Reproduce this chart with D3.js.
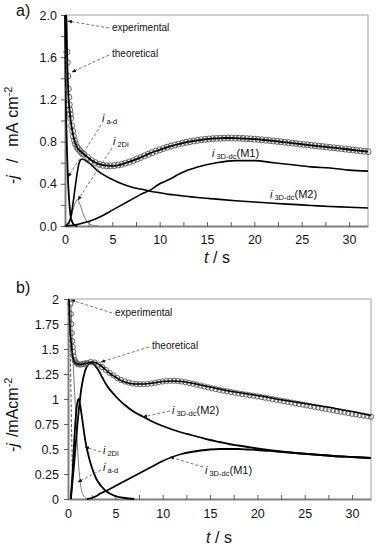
<!DOCTYPE html>
<html><head><meta charset="utf-8">
<script src="https://cdn.jsdelivr.net/npm/d3@7"></script>
<style>body{margin:0;background:#fff}svg{display:block}text{font-family:"Liberation Sans",Arial,sans-serif;fill:#111}</style>
</head><body><svg id="c" width="378" height="548"></svg>
<script>
// ---------- Panel a data ----------
const tA_exp = [0.12,0.16,0.2,0.25,0.3,0.35,0.4,0.5,0.6,0.7,0.8,1.0,1.25,1.6,2,3,4,5,6,7,8,9,10,11,12,13,14,15,16,17,18,19,20,21,22,23,24,25,26,27,28,29,30,31,32];
const jA_exp = [2.0,1.95,1.75,1.52,1.38,1.26,1.18,1.08,1.0,0.94,0.89,0.81,0.75,0.71,0.68,0.61,0.576,0.57,0.585,0.615,0.65,0.69,0.722,0.753,0.777,0.797,0.812,0.823,0.83,0.834,0.833,0.829,0.823,0.815,0.806,0.796,0.786,0.775,0.765,0.755,0.745,0.735,0.725,0.715,0.705];
const tA_th = [0.2,0.25,0.3,0.35,0.4,0.45,0.5,0.55,0.6,0.7,0.8,0.9,1.0,1.1,1.25,1.4,1.6,1.8,2.0,2.4,2.8,3.2,3.6,4.0,4.4,4.8,5.2,5.6,6.0,6.4,6.8,7.2,7.6,8.0,8.4,8.8,9.2,9.6,10.0,10.4,10.8,11.2,11.6,12.0,12.4,12.8,13.2,13.6,14.0,14.4,14.8,15.2,15.6,16.0,16.4,16.8,17.2,17.6,18.0,18.4,18.8,19.2,19.6,20.0,20.4,20.8,21.2,21.6,22.0,22.4,22.8,23.2,23.6,24.0,24.4,24.8,25.2,25.6,26.0,26.4,26.8,27.2,27.6,28.0,28.4,28.8,29.2,29.6,30.0,30.4,30.8,31.2,31.6,32.0];
const jA_th = [1.65,1.55,1.42,1.30,1.22,1.15,1.10,1.06,1.02,0.95,0.90,0.85,0.81,0.78,0.75,0.73,0.71,0.69,0.68,0.65,0.62,0.60,0.585,0.575,0.57,0.57,0.572,0.578,0.585,0.595,0.607,0.62,0.635,0.65,0.665,0.68,0.695,0.71,0.722,0.735,0.747,0.758,0.768,0.777,0.785,0.793,0.80,0.806,0.812,0.817,0.821,0.825,0.828,0.83,0.832,0.833,0.834,0.834,0.833,0.832,0.83,0.828,0.826,0.823,0.82,0.817,0.813,0.81,0.806,0.802,0.798,0.794,0.79,0.786,0.782,0.777,0.773,0.769,0.765,0.761,0.757,0.753,0.749,0.745,0.741,0.737,0.733,0.729,0.725,0.721,0.717,0.713,0.709,0.705];
const tA_ad = [0,0.05,0.1,0.2,0.3,0.4,0.5,0.6,0.8,1.0,1.3];
const jA_ad = [2.0,1.5,1.15,0.75,0.47,0.3,0.17,0.09,0.03,0.01,0];
const tA_2d = [0.4,0.7,1.0,1.3,1.6,1.9,2.2,2.6,3.0,3.5];
const jA_2d = [0,0.1,0.2,0.25,0.2,0.12,0.06,0.02,0.005,0];
const tA_m2 = [0,0.3,0.6,0.9,1.2,1.5,1.8,2.1,2.5,3,3.5,4,5,6,7,8,9,10,11,12,13,14,16,18,20,22,24,26,28,30,32];
const jA_m2 = [0,0.02,0.08,0.25,0.45,0.6,0.635,0.625,0.6,0.56,0.52,0.49,0.44,0.40,0.37,0.35,0.33,0.315,0.30,0.29,0.28,0.27,0.255,0.24,0.228,0.215,0.205,0.195,0.185,0.178,0.17];
const tA_m1 = [0,1,2,3,4,5,6,7,8,9,10,11,12,13,14,16,18,20,22,24,26,28,30,32];
const jA_m1 = [0,0.01,0.03,0.06,0.1,0.15,0.2,0.25,0.3,0.34,0.4,0.44,0.49,0.53,0.56,0.6,0.62,0.62,0.6,0.58,0.56,0.55,0.53,0.52];

// ---------- Panel b data ----------
const tB_exp = [0.1,0.15,0.2,0.3,0.4,0.5,0.6,0.8,1.0,1.3,1.6,2.0,2.5,3.0,3.5,4,4.5,5,5.5,6,7,8,9,10,11,12,13,14,15,16,17,18,19,20,21,22,23,24,25,26,27,28,29,30,31,32];
const jB_exp = [2.0,1.9,1.75,1.6,1.5,1.43,1.39,1.36,1.35,1.345,1.35,1.36,1.37,1.36,1.33,1.29,1.25,1.22,1.19,1.17,1.15,1.15,1.16,1.175,1.18,1.175,1.16,1.14,1.12,1.10,1.08,1.065,1.05,1.035,1.02,1.0,0.985,0.97,0.955,0.94,0.925,0.91,0.89,0.875,0.855,0.835];
const tB_th = [0.25,0.3,0.35,0.4,0.45,0.5,0.55,0.6,0.7,0.8,0.9,1.0,1.2,1.4,1.6,1.8,2.0,2.4,2.8,3.2,3.6,4.0,4.4,4.8,5.2,5.6,6.0,6.4,6.8,7.2,7.6,8.0,8.4,8.8,9.2,9.6,10.0,10.4,10.8,11.2,11.6,12.0,12.4,12.8,13.2,13.6,14.0,14.4,14.8,15.2,15.6,16.0,16.4,16.8,17.2,17.6,18.0,18.4,18.8,19.2,19.6,20.0,20.4,20.8,21.2,21.6,22.0,22.4,22.8,23.2,23.6,24.0,24.4,24.8,25.2,25.6,26.0,26.4,26.8,27.2,27.6,28.0,28.4,28.8,29.2,29.6,30.0,30.4,30.8,31.2,31.6,32.0];
const jB_th = [1.95,1.85,1.75,1.66,1.58,1.52,1.47,1.43,1.39,1.37,1.36,1.35,1.345,1.345,1.35,1.355,1.36,1.37,1.365,1.345,1.32,1.29,1.26,1.235,1.21,1.19,1.175,1.165,1.155,1.15,1.148,1.148,1.15,1.155,1.162,1.17,1.175,1.18,1.182,1.182,1.18,1.175,1.168,1.16,1.152,1.143,1.134,1.125,1.116,1.107,1.099,1.091,1.084,1.077,1.07,1.063,1.056,1.05,1.044,1.038,1.032,1.026,1.02,1.013,1.006,0.999,0.992,0.985,0.978,0.971,0.964,0.957,0.95,0.943,0.936,0.929,0.922,0.915,0.908,0.901,0.894,0.887,0.88,0.873,0.866,0.859,0.852,0.846,0.84,0.834,0.828,0.822];
const tB_ad = [0.3,0.4,0.5,0.6,0.74,0.9,1.0,1.1,1.2,1.3,1.45,1.6,1.8,2.0];
const jB_ad = [1.95,1.75,1.45,1.25,1.0,0.7,0.52,0.37,0.25,0.16,0.08,0.04,0.015,0];
const tB_dash = [0.15,0.25,0.35,0.45];
const jB_dash = [2.0,1.45,0.85,0.3];
const tB_2d = [0.3,0.5,0.7,0.9,1.1,1.3,1.5,1.8,2.0,2.5,3.0,3.5,4,5,6,7];
const jB_2d = [0,0.3,0.65,0.9,1.0,0.93,0.8,0.6,0.5,0.32,0.2,0.13,0.08,0.03,0.01,0];
const tB_m2 = [0.3,0.6,1.0,1.4,1.8,2.2,2.5,2.8,3.2,3.6,4,5,6,7,8,9,10,11,12,13,14,15,16,17,18,19,20,22,24,26,28,30,32];
const jB_m2 = [0,0.3,0.75,1.1,1.28,1.35,1.36,1.34,1.29,1.22,1.15,1.03,0.94,0.87,0.82,0.77,0.73,0.695,0.665,0.64,0.615,0.59,0.57,0.55,0.535,0.52,0.505,0.48,0.46,0.445,0.43,0.42,0.41];
const tB_m1 = [2.0,2.5,3,3.5,4,5,6,7,8,9,10,11,12,13,14,15,16,17,18,19,20,22,24,26,28,30,32];
const jB_m1 = [0,0.01,0.03,0.06,0.08,0.13,0.18,0.23,0.28,0.33,0.38,0.42,0.45,0.47,0.485,0.495,0.5,0.5,0.5,0.495,0.49,0.475,0.46,0.445,0.43,0.42,0.41];

// ticks
const xTicks = [0,2.5,5,7.5,10,12.5,15,17.5,20,22.5,25,27.5,30];
const xTickLabels = ["0","","5","","10","","15","","20","","25","","30"];
const yTicksA = [0,0.2,0.4,0.6,0.8,1.0,1.2,1.4,1.6,1.8,2.0];
const yTickLabelsA = ["0.0","","0.4","","0.8","","1.2","","1.6","","2.0"];
const yTicksB = [0,0.25,0.5,0.75,1,1.25,1.5,1.75,2];
const yTickLabelsB = ["0","0.25","0.5","0.75","1","1.25","1.5","1.75","2"];

const svg = d3.select("#c");
const zip = (t,j)=>t.slice(0,Math.min(t.length,j.length)).map((v,i)=>[v,j[i]]);

function panel(cfg){
  const x = d3.scaleLinear().domain([0,32]).range(cfg.xr);
  const y = d3.scaleLinear().domain([0,2]).range(cfg.yr);
  const g = svg.append("g");
  g.append("line").attr("x1",x(0)).attr("x2",x(32)).attr("y1",y(2)).attr("y2",y(2)).attr("stroke","#a0a0a0").attr("stroke-width",1);
  g.append("line").attr("x1",x(32)).attr("x2",x(32)).attr("y1",y(2)).attr("y2",y(0)).attr("stroke","#a0a0a0").attr("stroke-width",1);
  const xa = g.append("g").attr("transform",`translate(0,${y(0)})`)
    .call(d3.axisBottom(x).tickValues(xTicks).tickSize(0).tickFormat((d,i)=>xTickLabels[i]).tickPadding(cfg.xpad));
  xa.select(".domain").attr("stroke","#808080").attr("stroke-width",2);
  xa.selectAll(".tick").append("line").attr("y1",-4).attr("y2",1).attr("stroke","#606060").attr("stroke-width",1);
  xa.selectAll("text").attr("font-size",12.5).attr("fill","#111").attr("font-family","Liberation Sans, Arial, sans-serif");
  const ya = g.append("g").attr("transform",`translate(${x(0)},0)`)
    .call(d3.axisLeft(y).tickValues(cfg.yt).tickSize(0).tickFormat((d,i)=>cfg.ytl[i]).tickPadding(cfg.ypad));
  ya.select(".domain").attr("stroke","#808080").attr("stroke-width",2);
  ya.selectAll(".tick").append("line").attr("x1",-4).attr("x2",1).attr("stroke","#606060").attr("stroke-width",1);
  ya.selectAll("text").attr("font-size",12.5).attr("fill","#111").attr("font-family","Liberation Sans, Arial, sans-serif");

  const line = d3.line().x(d=>x(d[0])).y(d=>y(d[1])).curve(d3.curveMonotoneX);
  const plot = g.append("g");
  cfg.series.forEach(s=>{
    plot.append("path").attr("d",line(zip(s.t,s.j))).attr("fill","none")
      .attr("stroke",s.color).attr("stroke-width",s.w).attr("stroke-dasharray",s.dash||null);
  });
  plot.selectAll("circle.th").data(zip(cfg.th.t,cfg.th.j)).enter().append("circle")
    .attr("cx",d=>x(d[0])).attr("cy",d=>y(d[1])).attr("r",cfg.r).attr("fill","none").attr("stroke","#555").attr("stroke-width",0.9);
  plot.append("path").attr("d",line(zip(cfg.exp.t,cfg.exp.j))).attr("fill","none").attr("stroke","#000").attr("stroke-width",cfg.expW);
  return {g,x,y};
}

svg.append("defs").append("marker").attr("id","ah").attr("viewBox","0 0 10 10").attr("refX",9).attr("refY",5)
  .attr("markerWidth",5).attr("markerHeight",5).attr("orient","auto")
  .append("path").attr("d","M0,1 L10,5 L0,9 Z").attr("fill","#111");

function arrow(x1,y1,x2,y2){
  svg.append("line").attr("x1",x1).attr("y1",y1).attr("x2",x2).attr("y2",y2)
    .attr("stroke","#666").attr("stroke-width",0.9).attr("stroke-dasharray","3,2").attr("marker-end","url(#ah)");
}
function plain(txt,x,y,fs){ svg.append("text").attr("x",x).attr("y",y).attr("font-size",fs||10).text(txt); }
function ilabel(sub,tail,x,y){
  const t = svg.append("text").attr("x",x).attr("y",y).attr("font-size",11);
  t.append("tspan").attr("font-style","italic").text("i");
  t.append("tspan").attr("font-size",7.5).attr("dx",2).attr("dy",2).text(sub);
  if(tail) t.append("tspan").attr("dy",-2).attr("font-size",11).text(tail);
}

panel({xr:[65,368], yr:[226,15], yt:yTicksA, ytl:yTickLabelsA, xpad:9, ypad:8, r:3, expW:1.8,
  th:{t:tA_th,j:jA_th}, exp:{t:tA_exp,j:jA_exp},
  series:[
    {t:tA_ad,j:jA_ad,color:"#000",w:1.8},
    {t:tA_2d,j:jA_2d,color:"#777",w:1},
    {t:tA_m2,j:jA_m2,color:"#000",w:1.6},
    {t:tA_m1,j:jA_m1,color:"#000",w:1.6}
  ]});
panel({xr:[68,371], yr:[499,299], yt:yTicksB, ytl:yTickLabelsB, xpad:10, ypad:9, r:2.6, expW:1.6,
  th:{t:tB_th,j:jB_th}, exp:{t:tB_exp,j:jB_exp},
  series:[
    {t:tB_ad,j:jB_ad,color:"#777",w:1},
    {t:tB_dash,j:jB_dash,color:"#444",w:0.9,dash:"3,2"},
    {t:tB_2d,j:jB_2d,color:"#000",w:1.8},
    {t:tB_m2,j:jB_m2,color:"#000",w:1.8},
    {t:tB_m1,j:jB_m1,color:"#000",w:1.8}
  ]});

plain("a)",16,16,16);
plain("b)",16,293,16);

// axis titles (rotated, reading bottom-to-top)
function ytitle(x0,yBottom,parts){
  const t = svg.append("text").attr("transform",`translate(${x0},${yBottom}) rotate(-90)`).attr("font-size",16).attr("xml:space","preserve");
  parts.forEach(p=>{
    const s = t.append("tspan").text(p.s);
    if(p.i) s.attr("font-style","italic");
    if(p.dx) s.attr("dx",p.dx);
    if(p.fs) s.attr("font-size",p.fs);
    if(p.dy) s.attr("dy",p.dy);
  });
}
ytitle(18,184,[{s:"-"},{s:"j",i:true},{s:"/",dx:12},{s:"mA",dx:12},{s:"cm",dx:5},{s:"-2",fs:11,dy:-6}]);
ytitle(18,452,[{s:"-"},{s:"j",i:true},{s:"/",dx:6},{s:"mAcm"},{s:"-2",fs:11,dy:-6}]);
function xtitle(cx,cy){
  const t = svg.append("text").attr("x",cx).attr("y",cy).attr("text-anchor","middle").attr("font-size",16);
  t.append("tspan").attr("font-style","italic").text("t");
  t.append("tspan").text(" / s");
}
xtitle(217,263);
xtitle(219,543);

plain("experimental",112,31);
arrow(109,28,68,21);
plain("theoretical",112,57);
arrow(109,55,72,72);
ilabel("a-d","",102,122); arrow(101,125,68,177);
ilabel("2Di","",113,145); arrow(112,148,78,200);
ilabel("3D-dc","(M1)",212,157);
ilabel("3D-dc","(M2)",270,198);

plain("experimental",115,316);
arrow(112,313,71,300);
plain("theoretical",152,349);
arrow(149,347,101,362);
ilabel("3D-dc","(M2)",172,414); arrow(170,411,143,417);
ilabel("2Di","",103,454); arrow(101,452,85,447);
ilabel("a-d","",103,471); arrow(101,470,78,482);
ilabel("3D-dc","(M1)",205,474); arrow(203,467,170,457);
</script></body></html>
